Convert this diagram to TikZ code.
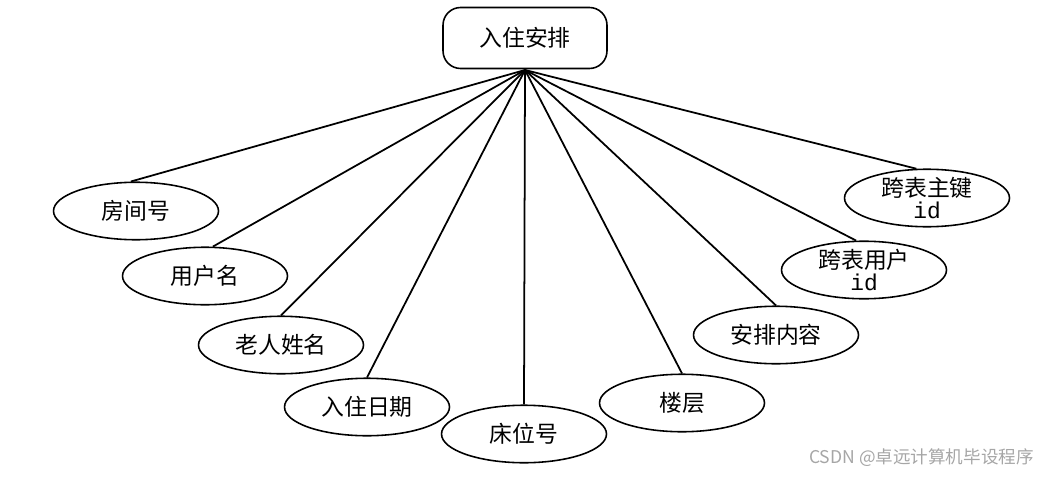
\documentclass[tikz,border=0pt]{standalone}
\usepackage{fontspec}
\setmainfont{Noto Sans CJK SC}
\newfontfamily\monof{Liberation Mono}
\usetikzlibrary{shapes.geometric}
\begin{document}
\begin{tikzpicture}[x=0.02cm,y=-0.02cm,
  ent/.style={draw,line width=0.9pt,rounded corners=10pt,minimum width=3.28cm,minimum height=1.22cm,font=\fontsize{13}{15}\selectfont},
  attr/.style={draw,line width=0.9pt,ellipse,minimum width=3.3cm,minimum height=1.15cm,inner sep=0pt,font=\fontsize{13}{15}\selectfont,align=center},
  link/.style={line width=1pt}]
\useasboundingbox (0,0) rectangle (1053,476);
\node[ent] (top) at (525,38) {入住安排};
\coordinate (hub) at (525,70);
\node[attr] (a1) at (136,211) {房间号};
\node[attr] (a2) at (205,276) {用户名};
\node[attr] (a3) at (281,345) {老人姓名};
\node[attr] (a4) at (367,407) {入住日期};
\node[attr] (a5) at (524,434) {床位号};
\node[attr] (a6) at (682,403) {楼层};
\node[attr] (a7) at (776,335) {安排内容};
\node[attr] (a8) at (864,270) {跨表用户\\[-3pt]{\monof id}};
\node[attr] (a9) at (927,198) {跨表主键\\[-3pt]{\monof id}};
\foreach \n/\a in {a1/100,a2/75,a3/90,a4/90,a5/90,a6/90,a7/90,a8/105,a9/110} \draw[link] (hub) -- (\n.\a);
\node[text=gray!70,font=\fontsize{10}{12}\selectfont,anchor=east] (wm) at (1040,458) {CSDN @卓远计算机毕设程序};
\end{tikzpicture}
\end{document}
